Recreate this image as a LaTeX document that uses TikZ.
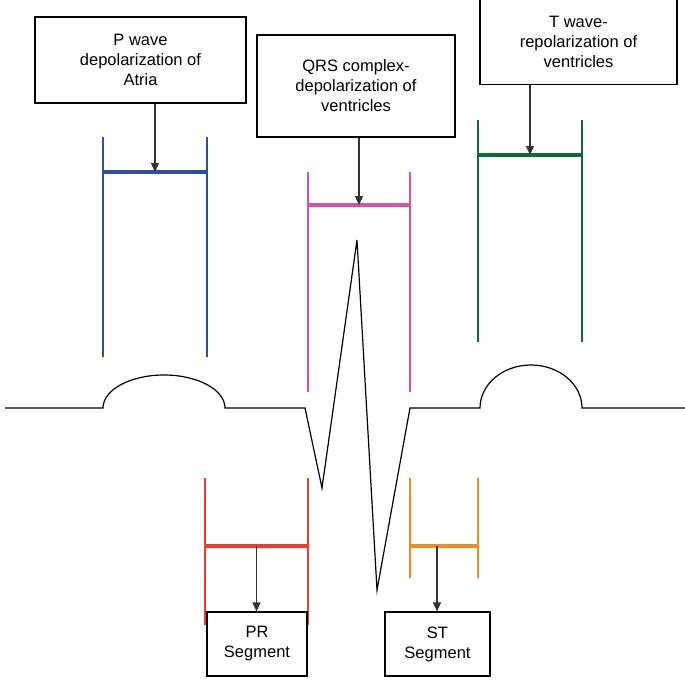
\documentclass[tikz,border=0pt]{standalone}
\usepackage{fontspec}
\setmainfont{Liberation Sans}
\usetikzlibrary{arrows.meta}
\definecolor{pblue}{HTML}{2E4DA6}
\definecolor{qpink}{HTML}{D94FB0}
\definecolor{tgreen}{HTML}{0B6B3A}
\definecolor{prred}{HTML}{EE3B2E}
\definecolor{storange}{HTML}{F08A24}
\begin{document}
\begin{tikzpicture}[x=1pt,y=-1pt,
  box/.style={draw,line width=1.2pt,fill=white,align=center,font=\fontsize{16.5}{20}\selectfont,inner sep=0pt},
  arr/.style={-{Triangle[length=9pt,width=8pt]},line width=1.2pt,draw=black!80},
  brk/.style={line width=1.5pt},
  bar/.style={line width=3.5pt}]
\useasboundingbox (0,0) rectangle (685,685);
% ECG trace
\draw[line width=1.2pt] (5,408) -- (103,408) arc[start angle=180,end angle=360,x radius=61,y radius=33] -- (305,408) -- (322,488) -- (357,240) -- (377,590) -- (410,408) -- (480,408) arc[start angle=180,end angle=360,x radius=51,y radius=43] -- (685,408);
% P
\draw[brk,pblue] (103,137) -- (103,357) (207,137) -- (207,357);
\draw[bar,pblue] (103,172) -- coordinate (pm) (207,172);
\node[box,minimum width=211pt,minimum height=86pt] (pbox) at (140.5,60) {P wave\\depolarization of\\Atria};
\draw[arr] (pbox.south -| pm) -- (pm);
% QRS
\draw[brk,qpink] (308,172) -- (308,392) (410,172) -- (410,392);
\draw[bar,qpink] (308,205) -- coordinate (qm) (410,205);
\node[box,minimum width=198pt,minimum height=102pt] (qbox) at (356,86) {QRS complex-\\depolarization of\\ventricles};
\draw[arr] (qbox.south -| qm) -- (qm);
% T
\draw[brk,tgreen] (478,120) -- (478,342) (582,120) -- (582,342);
\draw[bar,tgreen] (478,155) -- coordinate (tm) (582,155);
\node[box,minimum width=197pt,minimum height=85pt] (tbox) at (578.5,42) {T wave-\\repolarization of\\ventricles};
\draw[arr] (tbox.south -| tm) -- (tm);
% PR
\draw[brk,prred] (205,478) -- (205,625) (308,478) -- (308,625);
\draw[bar,prred] (205,546) -- coordinate (prm) (308,546);
\node[box,minimum width=100pt,minimum height=64pt] (prbox) at (257,644) {PR\\Segment};
\draw[arr] (prm) -- (prbox.north -| prm);
% ST
\draw[brk,storange] (410,478) -- (410,578) (478,478) -- (478,578);
\draw[bar,storange] (410,546) -- (478,546);
\coordinate (stm) at (437,546);
\node[box,minimum width=105pt,minimum height=64pt] (stbox) at (437.5,644) {ST\\Segment};
\draw[arr] (stm) -- (stbox.north -| stm);
\end{tikzpicture}
\end{document}
